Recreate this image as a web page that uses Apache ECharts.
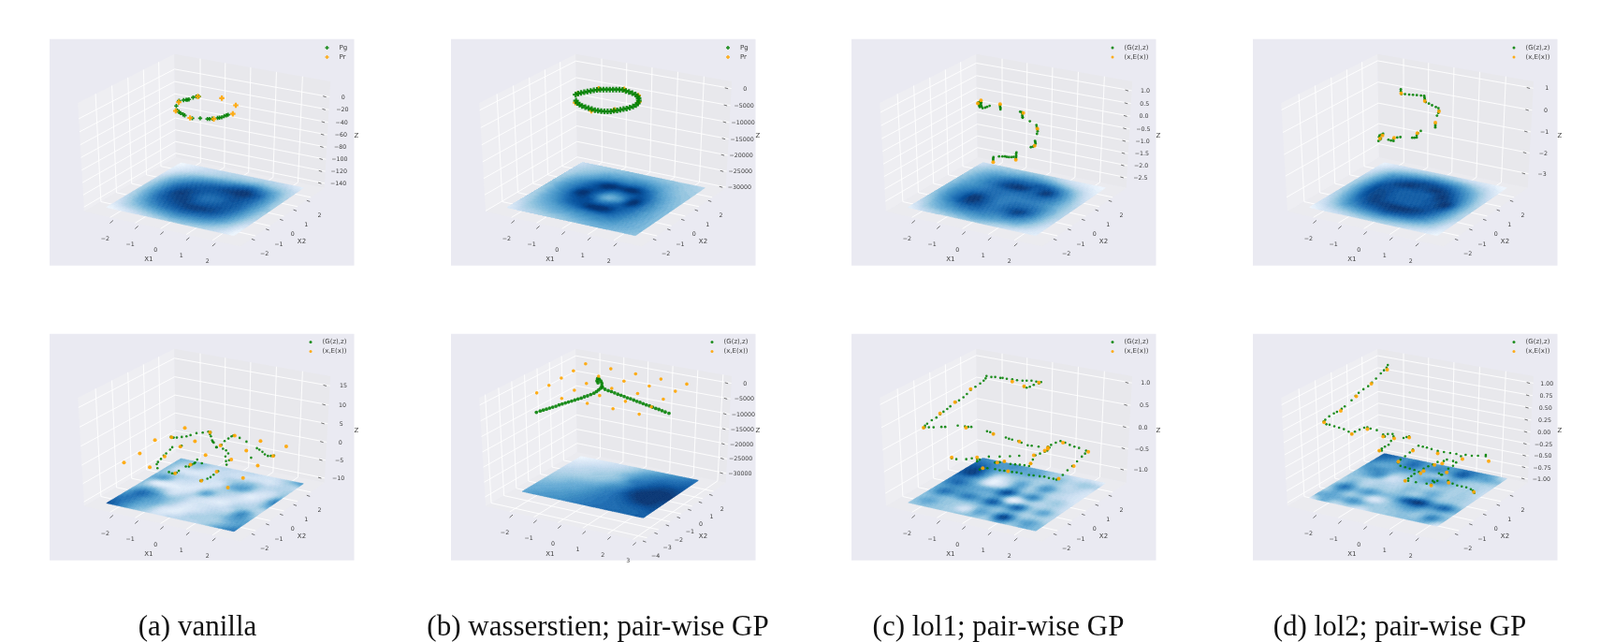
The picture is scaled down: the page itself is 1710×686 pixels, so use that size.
<!DOCTYPE html>
<html><head><meta charset="utf-8">
<style>html,body{margin:0;background:#fff}#c{width:1710px;height:686px}</style>
<script src="https://cdn.jsdelivr.net/npm/echarts@6/dist/echarts.min.js"></script>
</head><body><div id="c"></div>
<script>
// ---------- values ----------
const captions = ['(a) vanilla','(b) wasserstien; pair-wise GP','(c) lol1; pair-wise GP','(d) lol2; pair-wise GP'];
const captionCentres = [211,639,1067,1496];
const legendClassic = ['Pg','Pr'];
const legendBigan = ['(G(z),z)','(x,E(x))'];

const x1Ticks = [-2,-1,0,1,2];
const x2Ticks = [-2,-1,0,1,2];
const x1TicksB = [-2,-1,0,1,2,3];
const x2TicksB = [-4,-3,-2,-1,0,1,2];
const zTicksA = [0,-20,-40,-60,-80,-100,-120,-140];
const zTicksB = [0,-5000,-10000,-15000,-20000,-25000,-30000];
const zTicksC = [1,0.5,0,-0.5,-1,-1.5,-2,-2.5];
const zTicksD = [1,0,-1,-2,-3];
const zTicksE = [15,10,5,0,-5,-10];
const zTicksF = [0,-5000,-10000,-15000,-20000,-25000,-30000];
const zTicksG = [1,0.5,0,-0.5,-1];
const zTicksH = [1,0.75,0.5,0.25,0,-0.25,-0.5,-0.75,-1];

const zLimA=[-147.5,24], zLimB=[-30190,2080], zLimC=[-2.93,1.36], zLimD=[-3.69,1.31];
const zLimE=[-11.27,17.5], zLimF=[-33230,2290], zLimG=[-1.31,1.15], zLimH=[-1.08,1.14];
const x1Lim=[-3.05,3.05], x2Lim=[-3.05,3.05], x1LimB=[-3.02,3.34], x2LimB=[-4.44,3.2];

// surface darkness on an 11x11 lattice: rows X1 low to high, columns X2 low to high
const surfA=[[.02,.15,.25,.3,.33,.33,.3,.25,.15,.08,.02],[.1,.3,.42,.5,.55,.55,.52,.45,.32,.18,.1],[.2,.4,.58,.72,.8,.8,.75,.62,.45,.28,.2],[.28,.48,.7,.85,.93,.97,.88,.75,.55,.32,.25],[.33,.55,.78,.92,.95,.9,.88,.82,.62,.38,.28],[.38,.6,.82,.96,.85,.78,.85,.88,.68,.42,.3],[.38,.58,.8,.95,.86,.8,.88,.95,.78,.45,.3],[.35,.55,.75,.88,.88,.88,.92,1,.82,.48,.3],[.3,.45,.62,.72,.78,.8,.82,.85,.68,.42,.28],[.2,.3,.42,.5,.55,.58,.6,.58,.5,.35,.22],[.02,.08,.2,.3,.35,.38,.35,.35,.3,.25,.1]];
const surfB=[[.12,.2,.28,.32,.35,.38,.38,.35,.3,.28,.22],[.25,.35,.42,.48,.52,.55,.55,.5,.42,.35,.3],[.3,.42,.52,.62,.7,.75,.72,.65,.52,.42,.35],[.35,.48,.6,.78,.88,1,.88,.82,.65,.5,.38],[.38,.5,.68,.88,.9,.8,.88,1,.72,.52,.42],[.42,.55,.72,1,.75,.5,.7,.95,.72,.55,.42],[.45,.58,.75,.98,.82,.62,.78,1,.75,.55,.42],[.48,.58,.72,.8,.85,1,.9,.82,.65,.5,.4],[.48,.55,.62,.68,.72,.75,.72,.62,.52,.45,.38],[.45,.5,.52,.55,.55,.55,.52,.48,.42,.38,.35],[.42,.45,.45,.45,.45,.45,.42,.4,.38,.35,.3]];
const surfC=[[.08,.2,.3,.38,.42,.42,.4,.38,.35,.3,.2],[.22,.38,.48,.58,.62,.6,.55,.52,.48,.4,.3],[.3,.48,.62,.78,.8,.72,.65,.65,.6,.48,.35],[.35,.55,.75,.95,1,.82,.75,.8,.72,.52,.38],[.38,.58,.78,.88,.85,.78,.8,.95,.82,.58,.4],[.4,.6,.72,.75,.72,.72,.78,.98,.82,.6,.38],[.35,.55,.7,.82,.78,.72,.78,.85,.85,.55,.32],[.28,.5,.75,.95,.8,.72,.8,.98,.78,.45,.22],[.22,.45,.62,.75,.72,.65,.7,.72,.58,.32,.15],[.15,.3,.42,.48,.5,.48,.48,.45,.35,.2,.08],[.1,.15,.22,.28,.3,.3,.28,.22,.15,.08,.03]];
const surfD=[[.03,.15,.22,.28,.32,.33,.32,.28,.22,.15,.05],[.15,.3,.42,.5,.55,.58,.55,.5,.42,.3,.15],[.22,.42,.62,.75,.85,.88,.85,.75,.62,.42,.22],[.28,.5,.75,.92,.95,.92,.9,.92,.75,.5,.28],[.32,.55,.82,.95,.88,.85,.85,.98,.85,.55,.3],[.33,.58,.88,.98,.85,.85,.85,.92,.88,.58,.3],[.32,.55,.85,.98,.85,.85,.85,.98,.85,.55,.28],[.28,.5,.78,.92,.9,.9,.98,.92,.75,.5,.22],[.22,.42,.62,.75,.85,.98,.85,.72,.58,.38,.18],[.15,.3,.42,.5,.55,.58,.55,.48,.38,.25,.1],[.03,.12,.2,.28,.3,.32,.3,.25,.18,.1,.03]];
const surfE=[[.92,.8,.68,.55,.42,.45,.5,.42,.45,.45,.48],[.72,.72,.75,.78,.5,.12,.55,.4,.2,.3,.42],[.5,.55,.6,.65,.4,.1,.25,.3,.15,.35,.42],[.35,.42,.5,.45,.2,.12,.2,.25,.15,.2,.3],[.18,.15,.3,.35,.3,.2,.15,.2,.2,.25,.28],[.28,.12,.12,.18,.25,.55,.3,.18,.3,.22,.25],[.3,.3,.2,.2,.15,.3,.35,.5,.4,.2,.28],[.3,.35,.3,.25,.12,.2,.3,.55,.45,.2,.2],[.42,.35,.4,.3,.32,.2,.1,.25,.3,.18,.22],[.62,.5,.6,.65,.35,.3,.25,.2,.3,.3,.4],[.75,.62,.55,.4,.3,.55,.7,.45,.35,.3,.6]];
const surfF=[[.55,.52,.5,.45,.4,.35,.3,.25,.18,.1,.04],[.6,.55,.52,.48,.42,.38,.32,.28,.22,.15,.08],[.62,.6,.55,.52,.48,.42,.35,.3,.28,.2,.14],[.65,.62,.6,.55,.52,.45,.38,.36,.3,.25,.2],[.7,.68,.65,.62,.58,.5,.42,.38,.36,.3,.25],[.75,.72,.72,.7,.68,.62,.52,.46,.48,.4,.35],[.78,.76,.76,.76,.76,.72,.68,.7,.62,.55,.45],[.8,.78,.8,.85,.92,.92,.85,.78,.72,.65,.55],[.8,.8,.85,.95,1,1,.95,.88,.8,.72,.62],[.82,.82,.88,.98,1,1,.98,.92,.82,.75,.68],[.85,.85,.9,.92,.95,.98,.95,.9,.85,.8,.75]];
const surfG=[[.38,.42,.42,.5,.55,.68,.75,.88,.88,.8,.7],[.42,.55,.5,.75,.65,.8,.72,.95,.9,.75,.62],[.4,.42,.42,.62,.6,.6,.5,.6,.6,.62,.6],[.38,.35,.42,.72,.55,.5,.1,.15,.4,.6,.62],[.4,.18,.4,.6,.5,.58,.25,.3,.42,.55,.55],[.42,.55,.52,.85,.6,.9,.6,.55,.42,.55,.5],[.35,.5,.42,.55,.08,.5,.38,.38,.35,.38,.38],[.55,.95,.55,.82,.35,.68,.48,.62,.42,.42,.3],[.4,.5,.35,.42,.3,.35,.3,.35,.28,.3,.2],[.5,.58,.38,.55,.35,.38,.25,.25,.3,.38,.2],[.45,.42,.3,.3,.22,.2,.15,.15,.18,.3,.1]];
const surfH=[[.15,.5,.35,.42,.32,.4,.42,.55,.65,.78,.85],[.5,.55,.55,.75,.5,.4,.55,.65,.55,.68,.8],[.28,.5,.38,.5,.32,.32,.62,.6,.55,.6,.65],[.32,.62,.42,.6,.38,.3,.22,.4,.62,.78,.72],[.2,.42,.15,.45,.35,.3,.3,.4,.5,.6,.58],[.35,.38,.35,.5,.42,.42,.4,.5,.42,.65,.6],[.38,.4,.55,.85,.4,.4,.35,.62,.42,.6,.62],[.42,.45,.65,.98,.55,.5,.4,.5,.55,.85,.75],[.45,.4,.5,.7,.4,.35,.35,.35,.4,.6,.65],[.45,.7,.5,.8,.42,.38,.35,.35,.35,.55,.5],[.15,.42,.4,.5,.32,.3,.25,.25,.3,.42,.25]];

// Points as [lateral position, Z]. A single projection hides depth, so each point
// is read as lying on the vertical plane through the axis centre that faces the viewer.
const greenA=[[-.94,2.5],[-.86,-6.5],[-.81,-8.5],[-.68,-12],[-.44,-16.5],[-.19,-16.5],[.11,-17.5],[.19,-17],[.36,-16],[.49,-15],[.57,-13],[.64,-12],[.69,-11],[-.85,10.5],[-.71,11.5],[-.59,12],[-.54,12.5],[-.41,15.5],[-.31,17],[-.23,17],[-.63,12],[.04,-17.5],[.42,-15.5],[-.91,-4.5],[-.73,-10.5]];
const orangeA=[[.49,14.5],[.93,3.5],[.84,-9.5],[.24,-17.5],[-.51,-16],[-.96,-5],[-.86,8.5],[-.26,17]];
const greenB=[[-1,1332],[-.92,1612],[-.83,1800],[-.73,1987],[-.63,2174],[-.53,2360],[-.43,2548],[-.33,2641],[-.23,2735],[-.13,2735],[-.03,2735],[.07,2735],[.17,2735],[.27,2735],[.37,2735],[.47,2641],[.57,2360],[.67,2080],[.77,1706],[.87,1332],[.94,864],[.97,210],[.98,-445],[.95,-1192],[.89,-1660],[.8,-2128],[.7,-2408],[.6,-2688],[.5,-2875],[.4,-3062],[.3,-3250],[.2,-3343],[.1,-3530],[0,-3530],[-.1,-3530],[-.2,-3437],[-.3,-3343],[-.4,-3156],[-.5,-2875],[-.6,-2595],[-.7,-2315],[-.8,-1940],[-.88,-1567],[-.95,-1100],[-.99,-445]];
const orangeB=[[-.28,3015],[.96,1050],[.98,-820],[.22,-3060],[-.51,-3340],[-1.01,-1000],[-.93,1610],[.52,2830]];
const greenC=[[-.94,.95],[-.92,.89],[-.91,.83],[-.89,.78],[-.87,.93],[-.85,.86],[-.83,.8],[-.86,.98],[-.84,.95],[-.89,.98],[-.8,.74],[-.72,.76],[-.66,.79],[-.58,.83],[-.25,.85],[-.25,.8],[-.24,.75],[-.24,.69],[.38,.6],[.43,.58],[.45,.52],[.45,.45],[.46,.39],[.46,.37],[.69,.23],[.9,.08],[.91,0],[.93,-.09],[.94,-.16],[.92,-.26],[.86,-.54],[.87,-.59],[.88,-.65],[.85,-.72],[.8,-.77],[.73,-.79],[.27,-1],[.26,-1.06],[.26,-1.13],[.26,-1.19],[.25,-1.25],[.18,-1.18],[.11,-1.19],[.03,-1.19],[-.04,-1.18],[-.1,-1.16],[-.18,-1.16],[-.29,-1.16],[-.47,-1.19],[-.48,-1.25],[-.48,-1.31]];
const orangeC=[[-.95,.925],[-.85,1.04],[-.25,.89],[.48,.55],[.93,-.06],[.85,-.73],[.25,-1.3],[-.48,-1.39]];
const greenD=[[-.27,1.43],[-.27,1.34],[-.25,1.21],[-.14,1.21],[-.01,1.19],[.11,1.18],[.23,1.165],[.36,1.15],[.46,1.14],[.47,1.06],[.48,.98],[.51,.86],[.61,.79],[.71,.715],[.83,.64],[.91,.585],[.93,.48],[.91,.37],[.87,.25],[.82,-.14],[.82,-.21],[.82,-.285],[.36,-.445],[.27,-.55],[.23,-.65],[.23,-.75],[.16,-.76],[.09,-.76],[-.29,-.73],[-.39,-.75],[-.51,-.82],[-.51,-.91],[-.59,-.89],[-.67,-.85],[-.91,-.79],[-.97,-.72],[-.95,-.65],[-.89,-.62],[-.84,-.575],[-.99,-.91],[-.93,-.84]];
const orangeD=[[-.26,1.25],[.48,.9],[.93,.44],[.82,-.07],[.25,-.55],[-.49,-.76],[-.86,-.65],[-.94,-.79]];
const greenE=[[-1.13,4.42],[-1.09,4.25],[-1.04,4.25],[-.94,4.25],[-.78,4.42],[-.63,4.58],[-.5,4.92],[-.31,5.42],[-.11,5.58],[.07,5.83],[.14,5.67],[.12,5.17],[.15,4.58],[.19,3.5],[.24,2.92],[.32,1.67],[.49,2.33],[.59,3.33],[.71,4],[.81,4.58],[.87,4.83],[1.07,4.17],[1.29,3.17],[1.63,1.42],[1.71,1],[1.81,.42],[1.89,-.25],[1.99,-.67],[2.09,-.67],[2.19,-.58],[1.45,-1.17],[-.79,2.08],[-.83,1.83],[-1.09,1.67],[-1.16,1],[-1.29,0],[-1.37,-.58],[-1.46,-1.5],[-1.56,-2.33],[-1.6,-2.92],[-1.58,-4],[-1.21,-5.08],[-1.11,-5.42],[-1.04,-5.5],[-.96,-5.25],[-.89,-4.75],[-.66,-3.58],[-.56,-3.58],[-.46,-3],[-.36,-2.5],[-.29,-1.67],[-.39,-2.75],[-.14,-2.67],[.04,-6.92],[.14,-6.5],[.24,-5.83],[.39,-4.83],[-.19,-7.5],[-.13,-7.33],[.64,-2.08],[.66,-3.08],[.74,-1.83],[.62,-.83],[.71,0],[.64,.83],[.54,1.25],[.34,1.67],[.21,3.17]];
const orangeE=[[-2.66,-2.5],[-2.14,0],[-1.64,3.58],[-1.11,4.33],[-.68,6.83],[-1.83,-3.75],[-1.34,-.83],[-.83,1.83],[-.36,3.25],[.12,5.67],[-1.01,-5.42],[-.51,-3.08],[-.02,-.42],[.46,2.17],[.91,4.75],[-.16,-7.5],[.34,-5],[.81,-1.67],[1.29,.75],[1.74,3.33],[.71,-9.42],[1.2,-6.75],[1.67,-3.33],[2.16,-.67],[2.57,1.92]];
const greenF=[[-2.25,-5847],[-2.13,-5435],[-2.03,-5126],[-1.93,-4817],[-1.83,-4508],[-1.73,-4199],[-1.63,-3890],[-1.53,-3478],[-1.43,-3169],[-1.33,-2860],[-1.23,-2551],[-1.13,-2242],[-1.03,-1933],[-.93,-1624],[-.83,-1315],[-.73,-903],[-.63,-594],[-.53,-182],[-.43,230],[-.35,745],[-.28,1260],[-.22,1775],[-.18,2496],[-.18,3320],[-.21,4041],[-.26,4659],[-.31,4865],[-.33,4144],[-.3,3526],[-.16,2084],[-.08,1466],[.02,1054],[.12,745],[.22,333],[.32,-79],[.42,-388],[.52,-800],[.62,-1212],[.72,-1521],[.82,-1933],[.92,-2345],[1.02,-2654],[1.12,-3066],[1.22,-3478],[1.32,-3787],[1.42,-4199],[1.52,-4611],[1.62,-4920],[1.72,-5332],[1.82,-5744],[1.94,-6156]];
const orangeF=[[-2.22,333],[-1.83,2702],[-1.44,4968],[-1.06,7234],[-.68,9397],[-1.44,-1418],[-1.04,1157],[-.66,3320],[-.28,5586],[.1,7852],[-.64,-2963],[-.25,-491],[.13,1775],[.51,4041],[.87,6307],[.17,-4714],[.56,-2345],[.94,127],[1.3,2496],[1.66,4659],[1,-6465],[1.38,-4096],[1.75,-1624],[2.12,848],[2.47,3114]];
const greenG=[[-.67,1.38],[-.7,1.33],[-.76,1.28],[-.87,1.22],[-1.02,1.15],[-1.17,1.08],[-1.29,.99],[-1.4,.92],[-1.54,.85],[-1.65,.81],[-1.82,.72],[-1.92,.66],[-2.04,.6],[-2.15,.54],[-2.27,.47],[-2.42,.41],[-2.57,.33],[-2.64,.29],[-2.69,.24],[-.52,1.36],[-.4,1.36],[-.24,1.34],[-.17,1.34],[-.04,1.32],[.13,1.31],[.28,1.29],[.45,1.28],[.58,1.28],[.73,1.28],[.88,1.26],[1.03,1.25],[.96,1.22],[.8,1.19],[.68,1.15],[.58,1.13],[.5,1.15],[-2.65,.25],[-2.52,.25],[-2.37,.25],[-2.12,.26],[-2,.26],[-1.6,.29],[-1.37,.27],[-1.27,.26],[-1.17,.26],[-.67,.16],[-.57,.14],[-.47,.1],[-.07,.02],[.03,-.01],[.13,-.03],[.33,-.06],[.43,-.1],[.63,-.16],[.76,-.17],[.98,-.19],[1.28,-.19],[1.38,-.15],[1.53,-.1],[1.68,-.06],[1.83,-.1],[1.98,-.15],[2.13,-.19],[2.28,-.22],[2.51,-.28],[2.48,-.35],[2.38,-.42],[2.23,-.53],[2.08,-.64],[1.93,-.74],[1.78,-.85],[1.65,-.94],[1.58,-.96],[1.48,-.94],[1.33,-.92],[1.18,-.89],[1.03,-.88],[.83,-.86],[.68,-.85],[.43,-.81],[.28,-.79],[.13,-.78],[-.12,-.75],[-.27,-.74],[-.42,-.71],[-.67,-.69],[-.8,-.69],[-.92,-.72],[-1.82,-.46],[-1.67,-.48],[-1.35,-.48],[-1.17,-.46],[-1,-.48],[-1,-.53],[-.92,-.49],[-.62,-.42],[-.27,-.42],[.06,-.41],[.36,-.4],[-.42,-.56],[-.27,-.55],[-.12,-.53],[.08,-.59],[.23,-.6],[.38,-.61],[.53,-.62],[.68,-.64],[.74,-.58],[.8,-.49],[.88,-.39],[1.03,-.35],[1.18,-.31],[1.26,-.28],[1.33,-.21]];
const orangeG=[[.96,1.24],[.5,1.16],[.13,1.26],[-1.17,1.1],[-1.67,.81],[-2.15,.56],[-2.69,.24],[-1.34,.24],[-.47,.1],[.36,-.07],[1.28,-.21],[1.76,-.1],[2.58,-.31],[2.13,-.64],[1.65,-.94],[.83,-.39],[.73,-.58],[0,-.76],[-1.82,-.44],[-1,-.44],[-.82,-.69],[-.35,-.56],[-.12,-.53],[1.18,-.28],[1.28,-.24]];
const greenH=[[-.67,1.56],[-.71,1.51],[-.79,1.46],[-.89,1.4],[-1.04,1.3],[-1.17,1.22],[-1.29,1.15],[-1.44,1.09],[-1.59,1.02],[-1.69,.96],[-1.82,.87],[-2.04,.75],[-2.14,.7],[-2.29,.64],[-2.39,.61],[-2.54,.55],[-2.67,.48],[-2.72,.45],[-2.64,.39],[-2.54,.38],[-2.39,.35],[-2.24,.32],[-2.09,.29],[-1.94,.24],[-1.84,.19],[-1.74,.24],[-1.59,.28],[-1.44,.32],[-1.34,.33],[-1.24,.3],[-1.04,.27],[-.84,.18],[-.79,.14],[-.69,.19],[-.54,.19],[-.51,.14],[-.59,.05],[-.67,-.03],[-.79,-.07],[-.89,-.11],[-.97,-.16],[-.89,-.15],[-.19,.11],[-.09,.13],[-.01,.14],[.29,-.05],[.43,-.07],[.56,-.09],[.71,-.12],[.91,-.16],[1.11,-.18],[1.31,-.2],[1.51,-.22],[1.66,-.27],[1.81,-.24],[2.01,-.26],[2.21,-.26],[2.46,-.27],[2.46,-.24],[.11,-.13],[.01,-.19],[-.14,-.27],[-.29,-.34],[-.37,-.4],[-.29,-.47],[-.14,-.5],[.01,-.53],[.16,-.56],[-.14,-.79],[-.04,-.74],[.06,-.69],[.16,-.64],[.31,-.6],[.46,-.53],[.61,-.48],[.76,-.44],[.91,-.39],[1.11,-.37],[1.21,-.34],[1.41,-.37],[1.51,-.4],[1.41,-.47],[1.26,-.53],[1.03,-.66],[.91,-.79],[.81,-.82],[.76,-.79],[.71,-.87],[.56,-.85],[.21,-.82],[-.04,-.79],[1.26,-.79],[1.41,-.85],[1.56,-.89],[1.71,-.91],[1.86,-.93],[2.01,-.97],[2.08,-1],[2.13,-1.05],[.96,-.63],[1.06,-.66]];
const orangeH=[[-.69,1.47],[-1.19,1.2],[-1.67,.95],[-2.17,.66],[-2.71,.43],[-1.84,.19],[-1.34,.29],[-.84,.14],[-.49,.1],[-.01,.12],[-.97,-.15],[.11,-.15],[-.36,-.38],[.91,-.21],[1.71,-.33],[2.56,-.37],[.36,-.63],[.46,-.58],[1.21,-.61],[-.14,-.79],[.71,-.89],[1.28,-.83],[2.11,-1.03],[.81,-.45],[1.06,-.42]];

// ---------- panels: layout and styling ----------
const panelDefs=[
 {l:53,t:41.7,x:x1Lim,y:x2Lim,z:zLimA,xt:x1Ticks,yt:x2Ticks,zt:zTicksA,zd:0,s:surfA,f:.02,g:greenA,o:orangeA,n:legendClassic,plus:true,gs:4.4,os:5.6,lg:[347.5,47.5]},
 {l:482,t:41.7,x:x1Lim,y:x2Lim,z:zLimB,xt:x1Ticks,yt:x2Ticks,zt:zTicksB,zd:0,s:surfB,f:.02,g:greenB,o:orangeB,n:legendClassic,plus:true,under:true,gs:6,os:5.6,lg:[776,47.5]},
 {l:910,t:41.7,x:x1Lim,y:x2Lim,z:zLimC,xt:x1Ticks,yt:x2Ticks,zt:zTicksC,zd:1,s:surfC,f:.02,g:greenC,o:orangeC,n:legendBigan,gs:2.8,os:4,lg:[1187.5,47.5]},
 {l:1339,t:41.7,x:x1Lim,y:x2Lim,z:zLimD,xt:x1Ticks,yt:x2Ticks,zt:zTicksD,zd:0,s:surfD,f:.02,g:greenD,o:orangeD,n:legendBigan,gs:2.8,os:4,lg:[1616.5,47.5]},
 {l:53,t:356.7,x:x1Lim,y:x2Lim,z:zLimE,xt:x1Ticks,yt:x2Ticks,zt:zTicksE,zd:0,s:surfE,f:.01,g:greenE,o:orangeE,n:legendBigan,gs:2.6,os:4,lg:[330.5,362]},
 {l:482,t:356.7,x:x1LimB,y:x2LimB,z:zLimF,xt:x1TicksB,yt:x2TicksB,zt:zTicksF,zd:0,s:surfF,f:.03,g:greenF,o:orangeF,n:legendBigan,gs:3.8,os:3.6,lg:[759.5,362]},
 {l:910,t:356.7,x:x1Lim,y:x2Lim,z:zLimG,xt:x1Ticks,yt:x2Ticks,zt:zTicksG,zd:1,s:surfG,f:.015,g:greenG,o:orangeG,n:legendBigan,gs:2.6,os:4,lg:[1187.5,362]},
 {l:1339,t:356.7,x:x1Lim,y:x2Lim,z:zLimH,xt:x1Ticks,yt:x2Ticks,zt:zTicksH,zd:2,s:surfH,f:.06,g:greenH,o:orangeH,n:legendBigan,gs:2.6,os:4,lg:[1616.5,362]}
];
const surfSpan=[-2.5,2.5], panelW=325.5, panelH=242;
const uRange=[-0.0869,0.0821], vRange=[-0.0954,0.087];
const FONT='"DejaVu Sans"', TICK='#3c3c3c', GREEN='#008000', ORANGE='#FFA500';
const PLUS='path://M2.5 0H5.5V2.5H8V5.5H5.5V8H2.5V5.5H0V2.5H2.5Z';
const BLUES=[[247,251,255],[222,235,247],[198,219,239],[158,202,225],[107,174,214],[66,146,198],[33,113,181],[8,81,156],[8,48,107]];

// matplotlib mplot3d view (elev 30, azim -60, dist 10) on the unit cube
function project(a,b,c){
  const x=a-.5,y=b-.5,z=c-.5;
  const d=10-(.433013*x-.75*y+.5*z);
  return [(.866025*x+.5*y)/d,(-.25*x+.433013*y+.866025*z)/d];
}
const frac=(v,lim)=>(v-lim[0])/(lim[1]-lim[0]);
function liftPoint(p,z){ return project(.5+.15*p[0],.5+.0866*p[0],frac(p[1],z)); }
function blues(t){
  const q=Math.max(0,Math.min(.9999,t))*8,i=Math.floor(q),f=q-i,a=BLUES[i],b=BLUES[i+1];
  return 'rgb('+[0,1,2].map(k=>Math.round(a[k]+(b[k]-a[k])*f)).join(',')+')';
}
// smooth shading of one lattice for the filled contour bands
function cr(p0,p1,p2,p3,t){return .5*(2*p1+(p2-p0)*t+(2*p0-5*p1+4*p2-p3)*t*t+(3*p1-p0-3*p2+p3)*t*t*t);}
function shade(m,u,v){
  const n=m.length-1,i=Math.min(n-1,Math.floor(u*n)),j=Math.min(n-1,Math.floor(v*n)),s=u*n-i,t=v*n-j;
  const c=k=>Math.max(0,Math.min(n,k)),row=[];
  for(let a=-1;a<=2;a++){const r=m[c(i+a)];row.push(cr(r[c(j-1)],r[c(j)],r[c(j+1)],r[c(j+2)],t));}
  return cr(row[0],row[1],row[2],row[3],s);
}
function surfaceCells(P){
  const N=(P.s.length-1)*6,B=34,cells=[];
  const X0=frac(surfSpan[0],P.x),X1=frac(surfSpan[1],P.x),Y0=frac(surfSpan[0],P.y),Y1=frac(surfSpan[1],P.y);
  const pt=(i,j)=>project(X0+(X1-X0)*i/N,Y0+(Y1-Y0)*j/N,P.f);
  for(let i=0;i<N;i++)for(let j=0;j<N;j++){
    const v=shade(P.s,(i+.5)/N,(j+.5)/N),band=(Math.floor(Math.max(0,Math.min(.999,v))*B)+.5)/B;
    cells.push({pts:[pt(i,j),pt(i+1,j),pt(i+1,j+1),pt(i,j+1)],color:blues(band*.98+.01)});
  }
  return cells;
}
function frameChildren(P,api){
  const C=(a,b,c)=>api.coord(project(a,b,c));
  const kids=[];
  const poly=(pts,fill)=>kids.push({type:'polygon',shape:{points:pts},style:{fill:fill}});
  const line=(a,b,stroke,w)=>kids.push({type:'line',shape:{x1:a[0],y1:a[1],x2:b[0],y2:b[1]},style:{stroke:stroke,lineWidth:w}});
  const text=(s,x,y,size)=>kids.push({type:'text',x:x,y:y,style:{text:s,fill:TICK,fontSize:size,fontFamily:FONT,align:'center',verticalAlign:'middle'}});
  poly([C(0,0,0),C(0,1,0),C(0,1,1),C(0,0,1)],'#EEEEF2');
  poly([C(0,1,0),C(1,1,0),C(1,1,1),C(0,1,1)],'#E8E8EC');
  poly([C(0,0,0),C(1,0,0),C(1,1,0),C(0,1,0)],'#EBEBEF');
  const G='#ffffff',W=.9;
  P.xt.forEach(t=>{const a=frac(t,P.x);line(C(a,0,0),C(a,1,0),G,W);line(C(a,1,0),C(a,1,1),G,W);});
  P.yt.forEach(t=>{const b=frac(t,P.y);line(C(1,b,0),C(0,b,0),G,W);line(C(0,b,0),C(0,b,1),G,W);});
  P.zt.forEach(t=>{const c=frac(t,P.z);line(C(0,0,c),C(0,1,c),G,W);line(C(0,1,c),C(1,1,c),G,W);});
  const fmt=(t,d)=>{const s=Math.abs(t).toFixed(d);return (t<0?'\u2212':'')+s;};
  P.xt.forEach(t=>{const q=C(frac(t,P.x),0,0);
    line([q[0]-.2,q[1]+6.2],[q[0]+3.2,q[1]+3.2],TICK,.7);
    text(fmt(t,0),q[0]-5.3,q[1]+22.7,6.3);});
  P.yt.forEach(t=>{const q=C(1,frac(t,P.y),0);
    line([q[0]-4.4,q[1]+3.4],[q[0]-1,q[1]+4.6],TICK,.7);
    text(fmt(t,0),q[0]+9.3,q[1]+19.7,6.3);});
  P.zt.forEach(t=>{const q=C(1,1,frac(t,P.z));
    line([q[0]-7,q[1]-.8],[q[0]-3.6,q[1]+.2],TICK,.7);
    text(fmt(t,P.zd),q[0]+14.5,q[1]+.5,6.3);});
  const xm=C(.5,0,0),ym=C(1,.5,0),zm=C(1,1,.5);
  text('X1',xm[0]-12.7,xm[1]+32.3,7);
  text('X2',ym[0]+19,ym[1]+27.3,7);
  text('Z',zm[0]+31,zm[1],7);
  return kids;
}

// ---------- build the option ----------
const grids=[],xAxes=[],yAxes=[],series=[],legends=[];
panelDefs.forEach((P,k)=>{
  grids.push({left:P.l,top:P.t,width:panelW,height:panelH,show:true,backgroundColor:'#EAEAF2',borderWidth:0});
  xAxes.push({type:'value',gridIndex:k,min:uRange[0],max:uRange[1],show:false});
  yAxes.push({type:'value',gridIndex:k,min:vRange[0],max:vRange[1],show:false});
  const base={coordinateSystem:'cartesian2d',xAxisIndex:k,yAxisIndex:k,silent:true,animation:false};
  series.push(Object.assign({},base,{type:'custom',clip:false,data:[[0,0]],z:1,
    renderItem:(p,api)=>({type:'group',children:frameChildren(P,api)})}));
  const cells=surfaceCells(P);
  series.push(Object.assign({},base,{type:'custom',clip:false,z:2,data:cells.map((c,i)=>[i]),
    renderItem:(p,api)=>{const c=cells[p.dataIndex];
      return {type:'polygon',shape:{points:c.pts.map(q=>api.coord(q))},style:{fill:c.color,stroke:c.color,lineWidth:.5}};}}));
  const sym=P.plus?PLUS:'circle';
  series.push(Object.assign({},base,{type:'scatter',name:P.n[0],symbol:sym,symbolSize:P.gs,z:P.under?4:3,
    itemStyle:{color:GREEN,opacity:.88},data:P.g.map(q=>liftPoint(q,P.z))}));
  series.push(Object.assign({},base,{type:'scatter',name:P.n[1],symbol:sym,symbolSize:P.os,z:P.under?3:4,
    itemStyle:{color:ORANGE,opacity:.9},data:P.o.map(q=>liftPoint(q,P.z))}));
  legends.push({data:P.n,left:P.lg[0],top:P.lg[1],orient:'vertical',padding:0,itemWidth:P.plus?4:3,itemHeight:P.plus?4:3,itemGap:3,
    selectedMode:false,textStyle:{fontFamily:FONT,fontSize:7,color:TICK,padding:[0,0,0,6]}});
});
const titles=captions.map((c,i)=>({text:c,left:captionCentres[i],top:655,textAlign:'center',padding:0,
  textStyle:{fontFamily:'"Liberation Serif"',fontSize:31,fontWeight:'normal',color:'#111'}}));
const chart=echarts.init(document.getElementById('c'),null,{renderer:'canvas'});
chart.setOption({animation:false,backgroundColor:'#fff',title:titles,grid:grids,xAxis:xAxes,yAxis:yAxes,legend:legends,series:series,tooltip:{show:false}});
</script></body></html>
